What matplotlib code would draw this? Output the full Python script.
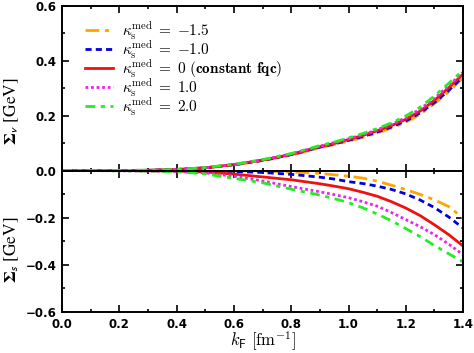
import matplotlib
matplotlib.use('Agg')
import matplotlib.pyplot as plt
from matplotlib.ticker import MultipleLocator

plt.rcParams['mathtext.fontset'] = 'cm'
plt.rcParams['axes.unicode_minus'] = True

kF = [0.0, 0.1, 0.2, 0.3, 0.4, 0.5, 0.6, 0.7, 0.8, 0.9, 0.95,
      1.0, 1.05, 1.1, 1.15, 1.2, 1.25, 1.3, 1.35, 1.4]

# Sigma_v [GeV]
sv_m15 = [0, 0, 0.0003, 0.001, 0.004, 0.009, 0.021, 0.036, 0.056, 0.083, 0.095,
          0.107, 0.121, 0.137, 0.155, 0.176, 0.205, 0.244, 0.287, 0.339]
sv_m10 = [0, 0, 0.0003, 0.001, 0.004, 0.010, 0.021, 0.037, 0.058, 0.085, 0.097,
          0.110, 0.124, 0.140, 0.159, 0.181, 0.210, 0.248, 0.292, 0.343]
sv_0 = [0, 0, 0.0003, 0.001, 0.004, 0.010, 0.022, 0.038, 0.059, 0.087, 0.099,
        0.113, 0.128, 0.145, 0.164, 0.187, 0.217, 0.256, 0.302, 0.352]
sv_p10 = [0, 0, 0.0003, 0.001, 0.004, 0.010, 0.022, 0.039, 0.061, 0.089, 0.102,
          0.116, 0.131, 0.149, 0.169, 0.193, 0.224, 0.264, 0.310, 0.359]
sv_p20 = [0, 0, 0.0003, 0.001, 0.004, 0.011, 0.023, 0.040, 0.062, 0.091, 0.104,
          0.119, 0.135, 0.153, 0.174, 0.199, 0.231, 0.272, 0.318, 0.366]

# Sigma_s [GeV]
ss_m15 = [0, 0, 0, 0, 0, 0, -0.001, -0.002, -0.006, -0.012, -0.018,
          -0.024, -0.032, -0.045, -0.062, -0.081, -0.101, -0.124, -0.153, -0.201]
ss_m10 = [0, 0, 0, 0, -0.001, -0.002, -0.004, -0.008, -0.016, -0.028, -0.036,
          -0.047, -0.055, -0.066, -0.080, -0.099, -0.125, -0.157, -0.197, -0.244]
ss_0 = [0, 0, 0, -0.001, -0.002, -0.006, -0.015, -0.027, -0.039, -0.056, -0.066,
        -0.077, -0.092, -0.109, -0.132, -0.159, -0.191, -0.230, -0.272, -0.320]
ss_p10 = [0, 0, -0.001, -0.002, -0.004, -0.010, -0.024, -0.044, -0.068, -0.090, -0.102,
          -0.115, -0.132, -0.151, -0.178, -0.208, -0.238, -0.272, -0.312, -0.357]
ss_p20 = [0, 0, -0.001, -0.002, -0.005, -0.014, -0.033, -0.052, -0.079, -0.104, -0.119,
          -0.136, -0.158, -0.184, -0.213, -0.246, -0.280, -0.318, -0.353, -0.387]

labels = [r'$\kappa_{\mathrm{s}}^{\mathrm{med}}\;=\;{-1.5}$',
          r'$\kappa_{\mathrm{s}}^{\mathrm{med}}\;=\;{-1.0}$',
          r'$\kappa_{\mathrm{s}}^{\mathrm{med}}\;=\;0\ \mathbf{(constant\ fqc)}$',
          r'$\kappa_{\mathrm{s}}^{\mathrm{med}}\;=\;1.0$',
          r'$\kappa_{\mathrm{s}}^{\mathrm{med}}\;=\;2.0$']
colors = ['orange', '#0000dd', '#ee1111', '#ee22ee', '#22ee22']
styles = [(0, (5, 2, 1.5, 2)), (0, (2.2, 1.5)), '-', (0, (1, 1)), (0, (3.5, 2, 1.5, 2))]
sv = [sv_m15, sv_m10, sv_0, sv_p10, sv_p20]
ss = [ss_m15, ss_m10, ss_0, ss_p10, ss_p20]

fig = plt.figure(figsize=(4.74, 3.53), dpi=100)
gs = fig.add_gridspec(2, 1, height_ratios=[164, 141], hspace=0,
                      left=0.131, right=0.977, top=0.983, bottom=0.116)
ax1 = fig.add_subplot(gs[0])
ax2 = fig.add_subplot(gs[1], sharex=ax1)

for i in range(5):
    ax1.plot(kF, sv[i], color=colors[i], linestyle=styles[i], linewidth=2, label=labels[i])
    ax2.plot(kF, ss[i], color=colors[i], linestyle=styles[i], linewidth=2)

ax1.axhline(0, color='black', linewidth=1.2)

for ax in (ax1, ax2):
    ax.set_xlim(0, 1.4)
    ax.xaxis.set_major_locator(MultipleLocator(0.2))
    ax.xaxis.set_minor_locator(MultipleLocator(0.1))
    ax.yaxis.set_major_locator(MultipleLocator(0.2))
    ax.yaxis.set_minor_locator(MultipleLocator(0.1))
    ax.tick_params(which='both', direction='in', top=True, right=True, width=1.2)
    ax.tick_params(which='major', length=5, labelsize=8.5)
    ax.tick_params(axis='x', pad=4.5)
    ax.tick_params(axis='y', pad=4)
    ax.tick_params(which='minor', length=2.5)
    for s in ax.spines.values():
        s.set_linewidth(1.4)

ax1.set_ylim(0, 0.6)
ax2.set_ylim(-0.6, 0)
ax2.set_yticks([-0.6, -0.4, -0.2])
for ax in (ax1, ax2):
    for lab in ax.get_xticklabels() + ax.get_yticklabels():
        lab.set_fontweight('bold')
plt.setp(ax1.get_xticklabels(), visible=False)

ax1.set_ylabel(r'$\mathbf{\Sigma}_{\mathsf{v}}\ [\mathrm{GeV}]$', fontsize=12.5,
               math_fontfamily='stix')
ax2.set_ylabel(r'$\mathbf{\Sigma}_{\mathsf{s}}\ [\mathrm{GeV}]$', fontsize=12.5,
               math_fontfamily='stix')
ax1.yaxis.set_label_coords(-0.102, 0.36)
ax2.yaxis.set_label_coords(-0.102, 0.44)
ax2.set_xlabel(r'$k_{\mathsf{F}}\ [\mathrm{fm}^{-1}]$', fontsize=12)
ax2.xaxis.set_label_coords(0.5, -0.125)

ax1.legend(loc='upper left', frameon=False, fontsize=11, handlelength=1.8,
           labelspacing=-0.21, borderaxespad=0, borderpad=0.4, handletextpad=0.6,
           bbox_to_anchor=(0.043, 0.955))

fig.savefig('out.png', dpi=100)
